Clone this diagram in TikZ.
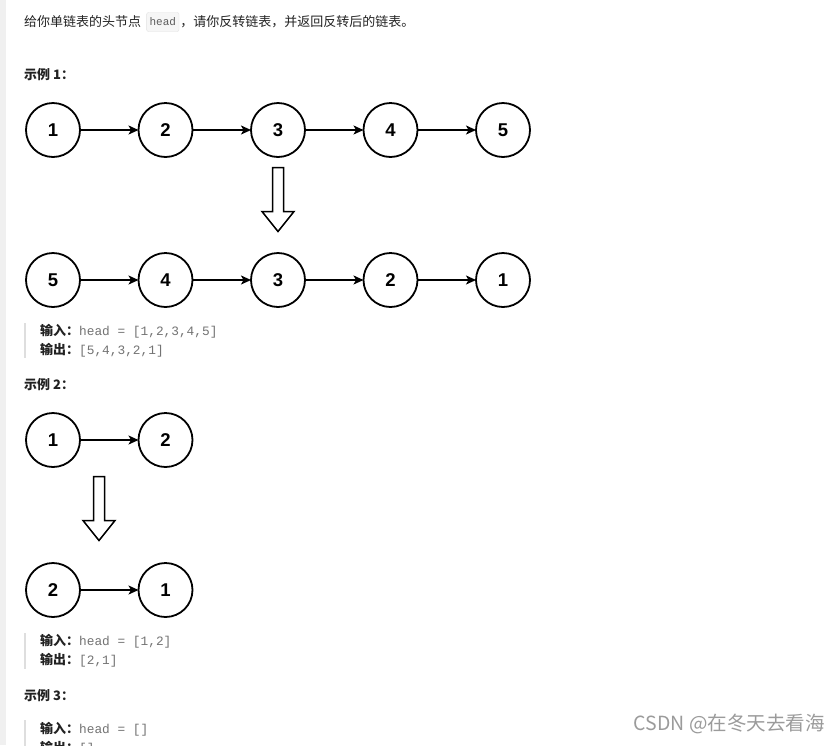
\documentclass[tikz,border=0pt]{standalone}
\usepackage{fontspec}
\setmainfont{Noto Sans CJK SC}
\newfontfamily\numfont{Liberation Sans}
\newfontfamily\codefont{Liberation Mono}
\usetikzlibrary{positioning,arrows.meta,calc}
\definecolor{cText}{RGB}{34,34,34}
\definecolor{cCode}{RGB}{115,115,115}
\definecolor{cBar}{RGB}{222,222,222}
\definecolor{cStrip}{RGB}{240,240,240}
\definecolor{cMark}{RGB}{155,155,155}
\definecolor{cTag}{RGB}{246,246,246}
\definecolor{cTagLine}{RGB}{226,226,226}
% hollow arrow, top centre given
\newcommand{\hollowdown}[1]{%
  \draw[hollow] #1 ++(-5.5,0) -- ++(0,44) -- ++(-10.5,0) -- ++(16,20)
    -- ++(16,-20) -- ++(-10.5,0) -- ++(0,-44) -- cycle;}

\begin{document}
\begin{tikzpicture}[x=1pt,y=-1pt,node distance=58.5pt]
\tikzset{lnode/.style={circle,draw,line width=1.8pt,minimum size=54pt,inner sep=0pt,outer sep=0pt,font=\numfont\bfseries\fontsize{18.5}{18.5}\selectfont},
  link/.style={-{Stealth[length=10pt,width=9pt,inset=2.5pt]},line width=1.5pt},
  hollow/.style={line width=1.5pt,line join=miter,fill=white},
  txt/.style={anchor=west,inner sep=0pt,text=cText,font=\fontsize{13}{15}\selectfont},
  bar/.style={cBar,line width=2pt}}
\clip (0,0) rectangle (840,745);
\fill[white] (0,0) rectangle (840,745);
\fill[cStrip] (0,0) rectangle (6,745);

% statement
\node[txt] (q1) at (24,22) {给你单链表的头节点};
\node[right=5pt of q1,draw=cTagLine,fill=cTag,rounded corners=2pt,minimum height=19pt,inner xsep=3pt,inner ysep=0pt,text=cCode!80!black,font=\codefont\fontsize{11}{13}\selectfont] (tag) {head};
\node[txt,right=1pt of tag] (q2) {，请你反转链表，并返回反转后的链表。};

% example 1
\node[txt,font=\bfseries\fontsize{13}{15}\selectfont] (ex1) at (24,75) {示例 1：};
\node[lnode] (t1) at (53,130) {1};
\node[lnode,right=of t1] (t2) {2};
\node[lnode,right=of t2] (t3) {3};
\node[lnode,right=of t3] (t4) {4};
\node[lnode,right=of t4] (t5) {5};
\draw[link] (t1) -- (t2);
\draw[link] (t2) -- (t3);
\draw[link] (t3) -- (t4);
\draw[link] (t4) -- (t5);
\hollowdown{($(t3.south)+(0,10.5)$)}
\node[lnode] (b1) at (53,280) {5};
\node[lnode,right=of b1] (b2) {4};
\node[lnode,right=of b2] (b3) {3};
\node[lnode,right=of b3] (b4) {2};
\node[lnode,right=of b4] (b5) {1};
\draw[link] (b1) -- (b2);
\draw[link] (b2) -- (b3);
\draw[link] (b3) -- (b4);
\draw[link] (b4) -- (b5);
\draw[bar] (25,323) -- (25,358);
\node[txt] (in1) at (40,331) {\textbf{输入：}{\codefont\color{cCode}\fontsize{12.8}{15}\selectfont head = [1,2,3,4,5]}};
\node[txt] (out1) at (40,350) {\textbf{输出：}{\codefont\color{cCode}\fontsize{12.8}{15}\selectfont [5,4,3,2,1]}};

% example 2
\node[txt,font=\bfseries\fontsize{13}{15}\selectfont] (ex2) at (24,385) {示例 2：};
\node[lnode] (u1) at (53,440) {1};
\node[lnode,right=of u1] (u2) {2};
\draw[link] (u1) -- (u2);
\hollowdown{($(u1.south)+(46,9.5)$)}
\node[lnode] (w1) at (53,590) {2};
\node[lnode,right=of w1] (w2) {1};
\draw[link] (w1) -- (w2);
\draw[bar] (25,633) -- (25,669);
\node[txt] (in2) at (40,641) {\textbf{输入：}{\codefont\color{cCode}\fontsize{12.8}{15}\selectfont head = [1,2]}};
\node[txt] (out2) at (40,660) {\textbf{输出：}{\codefont\color{cCode}\fontsize{12.8}{15}\selectfont [2,1]}};

% example 3
\node[txt,font=\bfseries\fontsize{13}{15}\selectfont] (ex3) at (24,696) {示例 3：};
\draw[bar] (25,720) -- (25,760);
\node[txt] (in3) at (40,729) {\textbf{输入：}{\codefont\color{cCode}\fontsize{12.8}{15}\selectfont head = []}};
\node[txt] (out3) at (40,748) {\textbf{输出：}{\codefont\color{cCode}\fontsize{12.8}{15}\selectfont []}};

\node[anchor=east,inner sep=0pt,text=cMark,font=\fontsize{19.5}{21}\selectfont] (mark) at (825,724) {CSDN @在冬天去看海};
\end{tikzpicture}
\end{document}
